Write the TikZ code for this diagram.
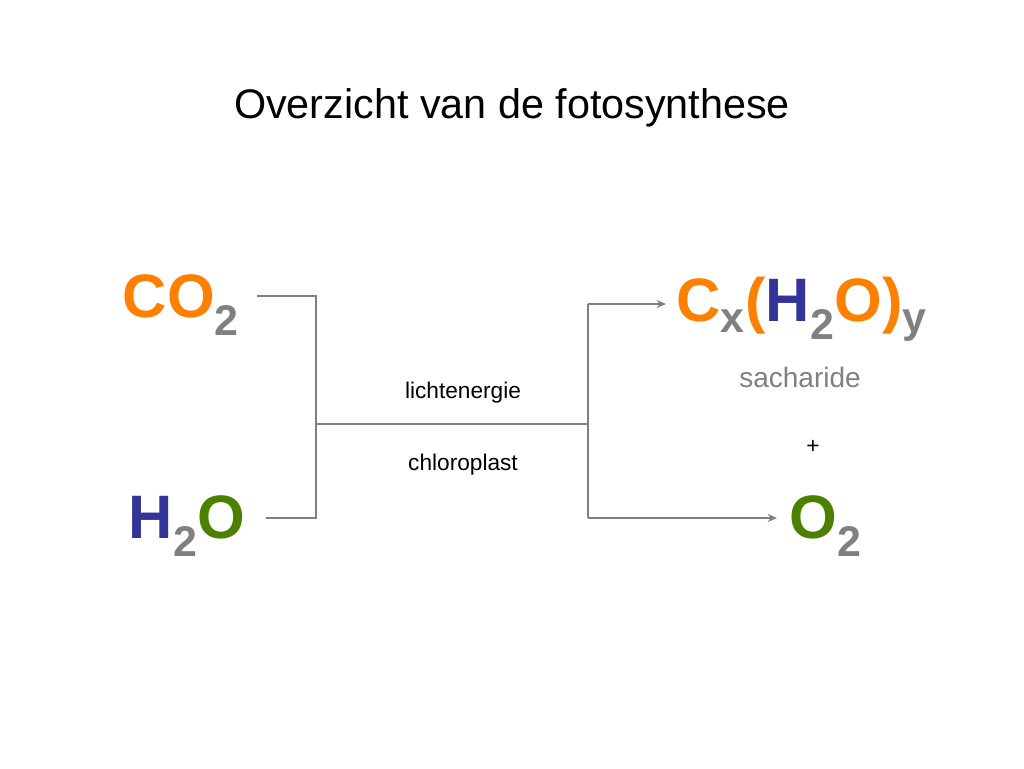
\documentclass[tikz,border=0pt]{standalone}
\usepackage{fontspec}
\setmainfont{Liberation Sans}
\usetikzlibrary{arrows.meta}
\definecolor{orng}{HTML}{FF8000}
\definecolor{gry}{HTML}{808080}
\definecolor{blu}{HTML}{333399}
\definecolor{grn}{HTML}{4D8000}
\tikzset{
 chem/.style={font=\fontsize{46}{50}\selectfont\bfseries, inner sep=0pt},
 lbl/.style={font=\fontsize{17}{20}\selectfont, inner sep=0pt},
 wire/.style={draw=gry, line width=1.5pt},
 arr/.style={wire, -{Stealth[length=7pt,width=6pt]}}
}
\newcommand{\gs}[1]{\textsubscript{\color{gry}#1}}
\begin{document}
\begin{tikzpicture}[x=0.75pt,y=-0.75pt]
\useasboundingbox (0,0) rectangle (1024,768);
\node[font=\fontsize{31}{36}\selectfont] (title) at (512,108) {Overzicht van de fotosynthese};
\node[chem] (co2) at (181,305) {\color{orng}CO\gs{2}};
\node[chem] (h2o) at (187,526) {\color{blu}H\gs{2}\color{grn}O};
\node[chem] (sug) at (802,309) {\color{orng}C\gs{x}(\color{blu}H\gs{2}\color{orng}O)\gs{y}};
\node[font=\fontsize{21}{24}\selectfont, text=gry, inner sep=0pt] (sac) at (800,377) {sacharide};
\node[lbl] (plus) at (813,447) {+};
\node[chem] (o2) at (826,526) {\color{grn}O\gs{2}};
\node[lbl] (le) at (463,393) {lichtenergie};
\node[lbl] (cp) at (463,465) {chloroplast};
\coordinate (a) at (316,296);
\coordinate (b) at (316,518);
\coordinate (m1) at (316,424);
\coordinate (m2) at (588,424);
\coordinate (t) at (588,304);
\coordinate (u) at (588,518);
\coordinate (c1) at (257,296);
\coordinate (h1) at (266,518);
\coordinate (e1) at (666,304);
\coordinate (e2) at (777,518);
\draw[wire] (c1) -- (a) -- (b) -- (h1);
\draw[wire] (m1) -- (m2);
\draw[wire] (t) -- (u);
\draw[arr] (t) -- (e1);
\draw[arr] (u) -- (e2);
\end{tikzpicture}
\end{document}
